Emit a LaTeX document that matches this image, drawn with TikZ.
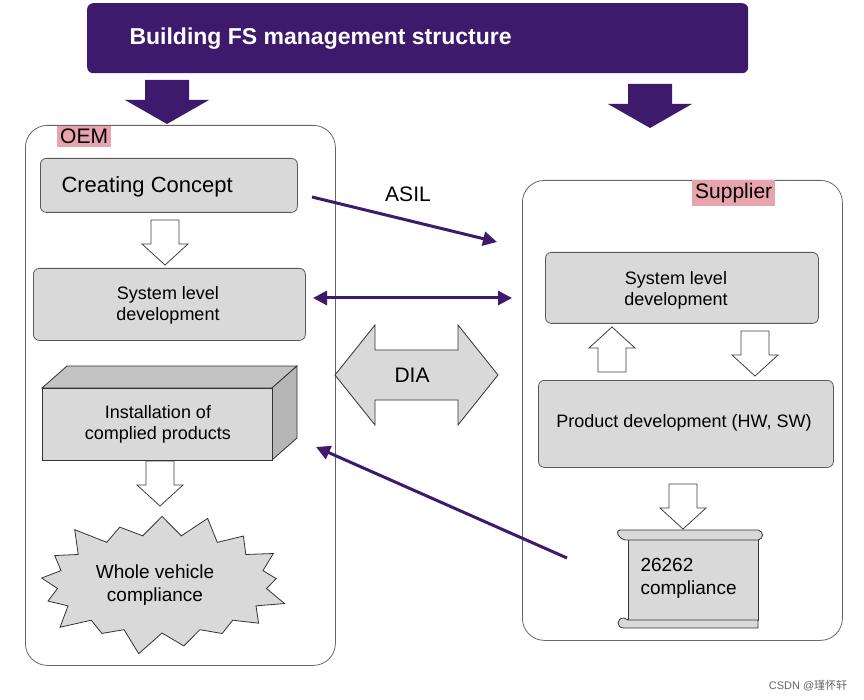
\documentclass[tikz,border=0pt]{standalone}
\usepackage{fontspec}
\setmainfont{Liberation Sans}
\usetikzlibrary{shapes.symbols,arrows.meta}
\definecolor{pur}{HTML}{3E1A6C}
\definecolor{boxg}{HTML}{D9D9D9}
\definecolor{pinkl}{HTML}{E8A4AC}
\tikzset{
 box/.style={draw=gray!70!black,fill=boxg,rounded corners=6pt,line width=0.8pt},
 cont/.style={draw=gray!80!black,rounded corners=22pt,line width=0.8pt},
 txt/.style={font=\fontsize{18}{21}\selectfont,align=center},
 con/.style={pur,line width=3pt,-{Triangle[length=14pt,width=14pt]}},
 lab/.style={fill=pinkl,font=\fontsize{21}{24}\selectfont,inner sep=3pt},
 hdown/.pic={\draw[gray!50!black,fill=white,line width=0.8pt] (-14,0)--(14,0)--(14,24)--(23,24)--(0,45)--(-23,24)--(-14,24)--cycle;},
 pdown/.pic={\fill[pur] (-22,0)--(22,0)--(22,20)--(42,20)--(0,44)--(-42,20)--(-22,20)--cycle;}
}
\begin{document}
\begin{tikzpicture}[x=1pt,y=-1pt]
\useasboundingbox (0,0) rectangle (864,700);
\fill[white] (0,0) rectangle (864,700);
\node[fill=pur,rounded corners=6pt,minimum width=661pt,minimum height=70pt,anchor=north west] (title) at (87,3) {};
\node[text=white,font=\bfseries\fontsize{23}{26}\selectfont,anchor=west] (tt) at (126,39) {Building FS management structure};
\pic at (167,80) {pdown};
\pic at (650,84) {pdown};
% containers
\node[cont,minimum width=310pt,minimum height=540pt,anchor=north west] (oem) at (25,125) {};
\node[cont,minimum width=320pt,minimum height=460pt,anchor=north west] (sup) at (522,180) {};
\node[lab,anchor=north west] (oeml) at (57,126) {OEM};
\node[lab,anchor=north west] (supl) at (692,180) {Supplier};
% left
\node[box,minimum width=257pt,minimum height=54pt,anchor=north west] (cc) at (40,158) {};
\node[font=\fontsize{22}{25}\selectfont,anchor=west] (cct) at (58,187) {Creating Concept};
\pic at (165,220) {hdown};
\node[box,minimum width=272pt,minimum height=72pt,anchor=north west] (sl) at (33,268) {};
\node[txt] at (168,305) {System level\\development};
\fill[boxg!75!gray,draw=gray!40!black,line width=0.8pt] (42,388)--(67,366)--(297,366)--(272,388)--cycle;
\fill[boxg!60!gray,draw=gray!40!black,line width=0.8pt] (272,388)--(297,366)--(297,438)--(272,460)--cycle;
\node[draw=gray!40!black,fill=boxg,line width=0.8pt,minimum width=230pt,minimum height=72pt,anchor=north west] (inst) at (42,388) {};
\node[txt] at (158,424) {Installation of\\complied products};
\pic at (160,461) {hdown};
\node[starburst,starburst points=17,starburst point height=26pt,draw=gray!40!black,fill=boxg,line width=0.8pt,minimum width=262pt,minimum height=150pt] (wv) at (162,584) {};
\node[font=\fontsize{19}{23}\selectfont,align=center] at (155,585) {Whole vehicle\\compliance};
% right
\node[box,minimum width=273pt,minimum height=71pt,anchor=north west] (sl2) at (545,252) {};
\node[txt] at (676,290) {System level\\development};
\pic[yscale=-1] at (612,372) {hdown};
\pic at (755,331) {hdown};
\node[box,minimum width=295pt,minimum height=87pt,anchor=north west] (pd) at (538,380) {};
\node[txt] at (684,423) {Product development (HW, SW)};
\pic at (683,484) {hdown};
% scroll
\draw[fill=boxg,draw=gray!40!black,line width=0.8pt] (628,538) -- (758,538) -- (758,620) -- (628,620) -- cycle;
\draw[fill=boxg,draw=gray!40!black,line width=0.8pt] (628,620) -- (758,620) -- (758,628) -- (624,628) .. controls (616,628) and (616,618) .. (624,618) -- (628,620);
\draw[fill=boxg,draw=gray!40!black,line width=0.8pt] (620,530) -- (758,530) .. controls (764,531) and (764,539) .. (758,540) -- (628,540) .. controls (620,541) and (614,531) .. (620,530) -- cycle;
\draw[gray!40!black,line width=0.8pt] (628,540) -- (628,620);
\node[font=\fontsize{19}{23}\selectfont,align=left,anchor=west] (sc) at (637,578) {26262\\compliance};
% connectors
\coordinate (a1) at (312,197); \coordinate (a2) at (497,242);
\draw[con] (a1) -- (a2);
\node[font=\fontsize{21}{24}\selectfont] (asil) at (408,194) {ASIL};
\coordinate (b1) at (313,298); \coordinate (b2) at (512,298);
\draw[con,{Triangle[length=14pt,width=14pt]}-{Triangle[length=14pt,width=14pt]}] (b1) -- (b2);
\coordinate (c1) at (567,558); \coordinate (c2) at (316,447);
\draw[con] (c1) -- (c2);
\draw[draw=gray!40!black,fill=boxg,line width=0.8pt] (335,375)--(375,325)--(375,350)--(458,350)--(458,325)--(498,375)--(458,425)--(458,400)--(375,400)--(375,425)--cycle;
\node[font=\fontsize{21}{24}\selectfont] (dia) at (412,375) {DIA};
\node[font=\fontsize{11}{13}\selectfont,text=gray!80!black] at (808,686) {CSDN @\fontspec{Noto Sans CJK SC}瑾怀轩};
\end{tikzpicture}
\end{document}
